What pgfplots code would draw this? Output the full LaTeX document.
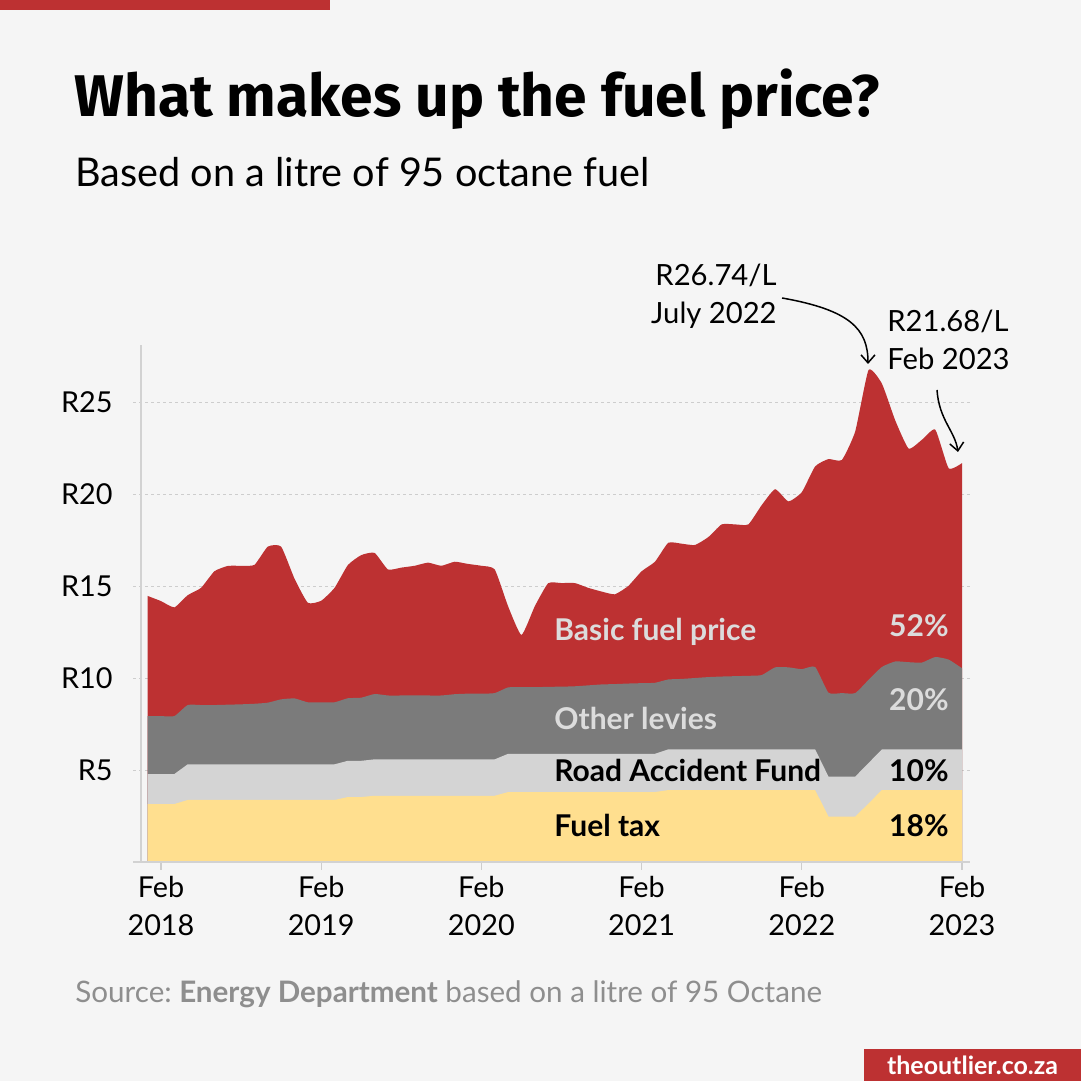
\documentclass[border=0pt]{standalone}
\usepackage{fontspec}
\setmainfont{Lato}
\newfontfamily\titlefont{Fira Sans}
\usepackage{pgfplots}
\usepackage{pgfplotstable}
\pgfplotsset{compat=1.18}
\usetikzlibrary{arrows.meta}
\frenchspacing

\definecolor{bg}{HTML}{F5F5F5}
\definecolor{cred}{HTML}{BD3132}
\definecolor{cdark}{HTML}{7B7B7B}
\definecolor{clight}{HTML}{D4D4D4}
\definecolor{cyel}{HTML}{FFDF8F}
\definecolor{gridc}{HTML}{CDCDCD}
\definecolor{axc}{HTML}{D2D2D2}
\definecolor{lbl}{HTML}{DCDCDC}
\definecolor{src}{HTML}{8E8E8E}

% month index (0 = Jan 2018); cumulative tops of each band in rand per litre
\pgfplotstableread{
m  tax  raf  lev   tot
0  3.15 4.78 7.93  14.46
1  3.15 4.78 7.93  14.18
2  3.15 4.78 7.93  13.84
3  3.37 5.31 8.53  14.50
4  3.37 5.31 8.53  14.90
5  3.37 5.31 8.53  15.80
6  3.37 5.31 8.55  16.09
7  3.37 5.31 8.57  16.10
8  3.37 5.31 8.60  16.15
9  3.37 5.31 8.66  17.14
10 3.37 5.31 8.84  17.14
11 3.37 5.31 8.89  15.40
12 3.37 5.31 8.68  14.09
13 3.37 5.31 8.68  14.20
14 3.37 5.31 8.68  14.90
15 3.53 5.50 8.90  16.14
16 3.53 5.50 8.93  16.68
17 3.60 5.58 9.13  16.80
18 3.60 5.58 9.05  15.90
19 3.60 5.58 9.05  16.00
20 3.60 5.58 9.05  16.10
21 3.60 5.58 9.05  16.27
22 3.60 5.58 9.05  16.10
23 3.60 5.58 9.12  16.32
24 3.60 5.58 9.15  16.20
25 3.60 5.58 9.15  16.10
26 3.60 5.58 9.18  15.90
27 3.80 5.88 9.49  13.90
28 3.80 5.88 9.50  12.34
29 3.80 5.88 9.50  13.90
30 3.80 5.88 9.52  15.15
31 3.80 5.88 9.53  15.16
32 3.80 5.88 9.55  15.16
33 3.80 5.88 9.60  14.90
34 3.80 5.88 9.65  14.70
35 3.80 5.88 9.67  14.55
36 3.80 5.88 9.70  15.00
37 3.80 5.88 9.72  15.80
38 3.80 5.88 9.74  16.32
39 3.91 6.12 9.92  17.35
40 3.91 6.12 9.95  17.30
41 3.91 6.12 10.00 17.23
42 3.91 6.12 10.05 17.66
43 3.91 6.12 10.08 18.35
44 3.91 6.12 10.10 18.35
45 3.91 6.12 10.12 18.35
46 3.91 6.12 10.16 19.40
47 3.91 6.12 10.58 20.26
48 3.91 6.12 10.58 19.60
49 3.91 6.12 10.48 20.10
50 3.91 6.12 10.60 21.50
51 2.46 4.64 9.20  21.90
52 2.46 4.64 9.18  21.85
53 2.46 4.64 9.18  23.40
54 3.18 5.38 9.90  26.74
55 3.91 6.12 10.60 26.00
56 3.91 6.12 10.90 24.00
57 3.91 6.12 10.86 22.47
58 3.91 6.12 10.84 22.95
59 3.91 6.12 11.14 23.50
60 3.91 6.12 11.00 21.40
61 3.91 6.12 10.53 21.68
}\fuel

\begin{document}
\begin{tikzpicture}
\begin{scope}[x=0.5pt,y=0.5pt]
  \fill[bg] (0,0) rectangle (1081,1081);
  \useasboundingbox (0,0) rectangle (1081,1081);
  \fill[cred] (0,1071) rectangle (330,1081);
\end{scope}

\begin{axis}[
  at={(66.5pt,109.5pt)}, anchor=south west,
  scale only axis, width=418.5pt, height=258.5pt,
  xmin=-1.097, xmax=61.6, ymin=0, ymax=28.1,
  axis line style={draw=none},
  xtick={1,13,25,37,49,61},
  xticklabels={{Feb\\2018},{Feb\\2019},{Feb\\2020},{Feb\\2021},{Feb\\2022},{Feb\\2023}},
  xtick pos=bottom, tick align=outside,
  major tick length=4pt,
  xtick style={draw=gridc, line width=0.6pt},
  ytick={5,10,15,20,25},
  yticklabels={R5,R10,R15,R20,R25},
  ytick style={draw=none},
  ymajorgrids,
  grid style={gridc, dash pattern=on 1.5pt off 1.5pt, line width=0.5pt},
  tick label style={font=\fontsize{14.4}{19}\selectfont, text=black},
  xticklabel style={align=center, inner sep=0pt, anchor=north, yshift=-3pt},
  yticklabel style={anchor=east, inner sep=0pt, xshift=-6pt},
  clip=false,
]
  \addplot[fill=cred, draw=none, smooth, tension=0.3] table[x=m, y=tot] {\fuel} \closedcycle;
  \addplot[fill=cdark, draw=none, smooth, tension=0.3] table[x=m, y=lev] {\fuel} \closedcycle;
  \addplot[fill=clight, draw=none] table[x=m, y=raf] {\fuel} \closedcycle;
  \addplot[fill=cyel, draw=none] table[x=m, y=tax] {\fuel} \closedcycle;
  \draw[axc, line width=0.75pt] (axis cs:-0.5,0) -- (axis cs:-0.5,28.1);
  \draw[axc, line width=0.75pt] (axis cs:-1.097,0) -- (axis cs:61.6,0);
\end{axis}

\begin{scope}[x=0.5pt,y=0.5pt]
  % titles
  \node[anchor=base west, inner sep=0pt] at (74,964.3)
    {\titlefont\bfseries\fontsize{29.4}{35}\selectfont What makes up the fuel price?};
  \node[anchor=base west, inner sep=0pt] at (75,894.3)
    {\fontsize{19.8}{24}\selectfont Based on a litre of 95 octane fuel};

  % band labels
  \begin{scope}[every node/.style={inner sep=0pt, font=\bfseries\fontsize{15}{18}\selectfont}]
    \node[anchor=base west, text=lbl] at (554,440.3) {Basic fuel price};
    \node[anchor=base east, text=lbl] at (949,444.3) {52\%};
    \node[anchor=base west, text=lbl] at (554,351) {Other levies};
    \node[anchor=base east, text=lbl] at (949,370) {20\%};
    \node[anchor=base west] at (554,299.3) {Road Accident Fund};
    \node[anchor=base east] at (949,299.3) {10\%};
    \node[anchor=base west] at (554,244.3) {Fuel tax};
    \node[anchor=base east] at (949,244.3) {18\%};
  \end{scope}

  % annotations
  \begin{scope}[every node/.style={inner sep=0pt, font=\fontsize{14.6}{17}\selectfont}]
    \node[anchor=base east] at (777,795) {R26.74/L};
    \node[anchor=base east] at (777,757) {July 2022};
    \node[anchor=base west] at (887,749.3) {R21.68/L};
    \node[anchor=base west] at (887,711) {Feb 2023};
  \end{scope}
  \draw[line width=0.75pt, -{Straight Barb[length=4pt,width=7pt]}]
    (782,783) .. controls (850,771) and (868,752) .. (868,717);
  \draw[line width=0.75pt, -{Straight Barb[length=4pt,width=7pt]}]
    (937,691) .. controls (939,661) and (955,650) .. (958,629);

  % source and logo
  \node[anchor=base west, inner sep=0pt, text=src] at (75,78)
    {\fontsize{14.8}{18}\selectfont Source: {\bfseries Energy Department} based on a litre of 95 Octane};
  \fill[cred] (864,0) rectangle (1081,32);
  \node[anchor=center, inner sep=0pt, text=white] at (972.5,16)
    {\bfseries\fontsize{12.5}{15}\selectfont theoutlier.co.za};
\end{scope}
\end{tikzpicture}
\end{document}
